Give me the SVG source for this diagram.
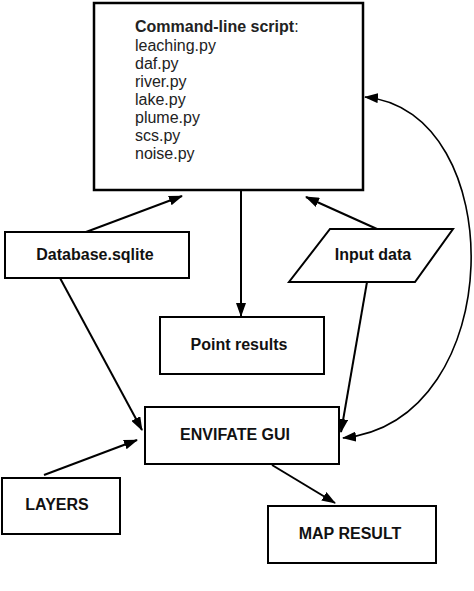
<svg xmlns="http://www.w3.org/2000/svg" width="474" height="591" viewBox="0 0 474 591">
<style>
.box{fill:#fff;stroke:#000;stroke-width:2}
.lbl{font-family:"Liberation Sans",Arial,sans-serif;font-size:16px;font-weight:bold;fill:#111;text-anchor:middle;dominant-baseline:central}
.txt{font-family:"Liberation Sans",Arial,sans-serif;font-size:16px;fill:#222}
.edge{fill:none;stroke:#000;stroke-width:2}
</style>
<defs>
<marker id="arr" viewBox="0 0 14 10" refX="13" refY="5" markerWidth="14" markerHeight="10" markerUnits="userSpaceOnUse" orient="auto-start-reverse">
<path d="M0,0 L14,5 L0,10 Z" fill="#000"/>
</marker>
</defs>
<rect width="474" height="591" fill="#fff"/>
<g id="connectors">
<line class="edge" x1="86" y1="232" x2="182" y2="196" marker-end="url(#arr)"/>
<line class="edge" x1="241" y1="191" x2="241" y2="316" marker-end="url(#arr)"/>
<line class="edge" x1="377" y1="229" x2="306" y2="197" marker-end="url(#arr)"/>
<line class="edge" x1="60" y1="278" x2="142" y2="430" marker-end="url(#arr)"/>
<line class="edge" x1="44" y1="475" x2="137" y2="440" marker-end="url(#arr)"/>
<line class="edge" x1="272" y1="465" x2="335" y2="503" marker-end="url(#arr)"/>
<line class="edge" x1="367" y1="282" x2="341" y2="432" marker-end="url(#arr)"/>
<path class="edge" style="stroke-width:1.6" d="M343,438 C510,420 510,110 365,97" marker-start="url(#arr)" marker-end="url(#arr)"/>
</g>
<g id="command">
<rect class="box" x="94" y="3" width="269" height="187" style="stroke-width:2.5"/>
<text class="txt" x="135" y="32"><tspan font-weight="bold">Command-line script</tspan>:</text>
<text class="txt" x="135" y="51">leaching.py</text>
<text class="txt" x="135" y="69">daf.py</text>
<text class="txt" x="135" y="87">river.py</text>
<text class="txt" x="135" y="105">lake.py</text>
<text class="txt" x="135" y="123">plume.py</text>
<text class="txt" x="135" y="141">scs.py</text>
<text class="txt" x="135" y="159">noise.py</text>
</g>
<g id="database">
<rect class="box" x="5" y="232" width="184" height="46"/>
<text class="lbl" x="95" y="254">Database.sqlite</text>
</g>
<g id="input">
<polygon class="box" points="330,229 453,229 415,282 289,282"/>
<text class="lbl" x="373" y="254">Input data</text>
</g>
<g id="point">
<rect class="box" x="160" y="317" width="164" height="57"/>
<text class="lbl" x="239" y="344">Point results</text>
</g>
<g id="gui">
<rect class="box" x="145" y="407" width="194" height="57"/>
<text class="lbl" x="235" y="434">ENVIFATE GUI</text>
</g>
<g id="layers">
<rect class="box" x="2" y="478" width="118" height="56"/>
<text class="lbl" x="57" y="504">LAYERS</text>
</g>
<g id="map">
<rect class="box" x="268" y="506" width="168" height="57"/>
<text class="lbl" x="350" y="533">MAP RESULT</text>
</g>
</svg>
